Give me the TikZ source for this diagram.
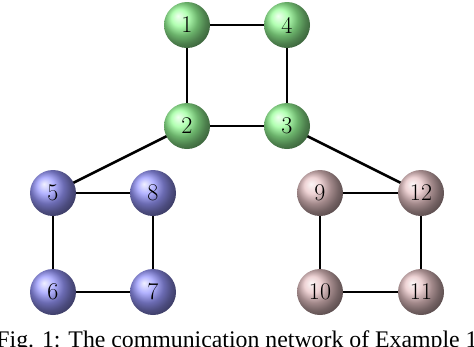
\documentclass[tikz,border=0pt]{standalone}
\usepackage{fontspec}
\newfontfamily\capfont{Liberation Serif}
\definecolor{pinkball}{RGB}{232,196,198}
\begin{document}
\begin{tikzpicture}[x=1pt,y=-1pt,
  nd/.style={circle,minimum size=46pt,inner sep=0pt,font=\fontsize{24}{24}\selectfont},
  gn/.style={nd,ball color=green!40},
  bn/.style={nd,ball color=blue!40},
  pn/.style={nd,ball color=pinkball},
  ed/.style={line width=2.6pt}]
\useasboundingbox (0,0) rectangle (474,346);
\clip (0,0) rectangle (474,346);
\coordinate (p1) at (187,25);
\coordinate (p4) at (287,25);
\coordinate (p2) at (187,126);
\coordinate (p3) at (287,126);
\coordinate (p5) at (53,193);
\coordinate (p8) at (153,193);
\coordinate (p6) at (53,292);
\coordinate (p7) at (153,292);
\coordinate (p9) at (320,193);
\coordinate (p12) at (421,193);
\coordinate (p10) at (320,292);
\coordinate (p11) at (421,292);
\draw[ed] (p1) -- (p4) -- (p3) -- (p2) -- cycle;
\draw[ed] (p2) -- (p5);
\draw[ed] (p3) -- (p12);
\draw[ed] (p5) -- (p8) -- (p7) -- (p6) -- cycle;
\draw[ed] (p9) -- (p12) -- (p11) -- (p10) -- cycle;
\node[gn] (n1) at (p1) {1};
\node[gn] (n4) at (p4) {4};
\node[gn] (n2) at (p2) {2};
\node[gn] (n3) at (p3) {3};
\node[bn] (n5) at (p5) {5};
\node[bn] (n8) at (p8) {8};
\node[bn] (n6) at (p6) {6};
\node[bn] (n7) at (p7) {7};
\node[pn] (n9) at (p9) {9};
\node[pn] (n12) at (p12) {12};
\node[pn] (n10) at (p10) {10};
\node[pn] (n11) at (p11) {11};
\node[anchor=base,inner sep=0pt,font=\capfont\fontsize{23.8}{24}\selectfont] (cap) at (237,347) {Fig. 1: The communication network of Example 1};
\end{tikzpicture}
\end{document}
